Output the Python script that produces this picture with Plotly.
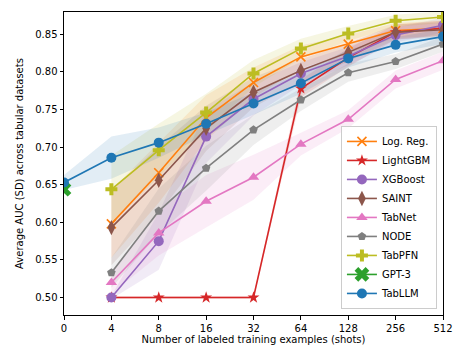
import plotly.graph_objects as go

shots = ["0", "4", "8", "16", "32", "64", "128", "256", "512"]

logreg_mean = [None, 0.598, 0.666, 0.739, 0.786, 0.820, 0.837, 0.855, 0.858]
logreg_sd = [None, 0.045, 0.040, 0.030, 0.020, 0.015, 0.012, 0.010, 0.010]
lgbm_mean = [None, 0.500, 0.500, 0.500, 0.500, 0.778, 0.819, 0.853, 0.858]
lgbm_sd = [None, 0.002, 0.002, 0.002, 0.002, 0.012, 0.012, 0.010, 0.010]
xgb_mean = [None, 0.500, 0.575, 0.714, 0.764, 0.798, 0.821, 0.849, 0.862]
xgb_sd = [None, 0.002, 0.038, 0.035, 0.022, 0.015, 0.012, 0.010, 0.010]
saint_mean = [None, 0.593, 0.656, 0.725, 0.773, 0.802, 0.826, 0.853, 0.856]
saint_sd = [None, 0.050, 0.045, 0.030, 0.020, 0.015, 0.012, 0.010, 0.010]
tabnet_mean = [None, 0.520, 0.586, 0.628, 0.660, 0.704, 0.737, 0.790, 0.815]
tabnet_sd = [None, 0.015, 0.030, 0.035, 0.030, 0.015, 0.012, 0.012, 0.012]
node_mean = [None, 0.533, 0.615, 0.672, 0.723, 0.763, 0.799, 0.814, 0.837]
node_sd = [None, 0.020, 0.030, 0.030, 0.020, 0.015, 0.012, 0.010, 0.010]
tabpfn_mean = [None, 0.644, 0.696, 0.746, 0.798, 0.831, 0.851, 0.868, 0.873]
tabpfn_sd = [None, 0.045, 0.035, 0.025, 0.018, 0.013, 0.010, 0.008, 0.008]
gpt3_mean = [0.644, None, None, None, None, None, None, None, None]
tabllm_mean = [0.653, 0.686, 0.706, 0.731, 0.758, 0.785, 0.818, 0.836, 0.847]
tabllm_sd = [0.010, 0.028, 0.020, 0.015, 0.015, 0.014, 0.012, 0.010, 0.010]

series = [
    ("Log. Reg.", logreg_mean, logreg_sd, "#ff7f0e", "x-thin-open", 9),
    ("LightGBM", lgbm_mean, lgbm_sd, "#d62728", "star", 9),
    ("XGBoost", xgb_mean, xgb_sd, "#9467bd", "circle", 10),
    ("SAINT", saint_mean, saint_sd, "#8c564b", "diamond-tall", 11),
    ("TabNet", tabnet_mean, tabnet_sd, "#e377c2", "triangle-up", 10),
    ("NODE", node_mean, node_sd, "#7f7f7f", "pentagon", 9),
    ("TabPFN", tabpfn_mean, tabpfn_sd, "#bcbd22", "cross", 10),
    ("GPT-3", gpt3_mean, None, "#2ca02c", "x", 13),
    ("TabLLM", tabllm_mean, tabllm_sd, "#1f77b4", "circle", 10),
]

def rgba(hexc, a):
    h = hexc.lstrip("#")
    return f"rgba({int(h[0:2],16)},{int(h[2:4],16)},{int(h[4:6],16)},{a})"

fig = go.Figure()

for name, mean, sd, col, sym, sz in series:
    if sd is None:
        continue
    xs = [s for s, m in zip(shots, mean) if m is not None]
    lo = [m - d for m, d in zip(mean, sd) if m is not None]
    hi = [m + d for m, d in zip(mean, sd) if m is not None]
    fig.add_trace(go.Scatter(x=xs, y=lo, mode="lines", line=dict(width=0, color=col),
                             showlegend=False, hoverinfo="skip"))
    fig.add_trace(go.Scatter(x=xs, y=hi, mode="lines", line=dict(width=0, color=col),
                             fill="tonexty", fillcolor=rgba(col, 0.13),
                             showlegend=False, hoverinfo="skip"))

for name, mean, sd, col, sym, sz in series:
    xs = [s for s, m in zip(shots, mean) if m is not None]
    ys = [m for m in mean if m is not None]
    mk = dict(symbol=sym, size=sz, color=col)
    if sym == "x-thin-open":
        mk["line"] = dict(width=1.6, color=col)
    fig.add_trace(go.Scatter(x=xs, y=ys, mode="lines+markers", name=name,
                             line=dict(color=col, width=1.6), marker=mk))

axis_common = dict(showline=True, linecolor="black", linewidth=1, mirror=True,
                   ticks="outside", ticklen=3.5, tickcolor="black", showgrid=False,
                   zeroline=False, automargin=False, tickfont=dict(size=10, color="black"))

fig.update_xaxes(type="category", categoryorder="array", categoryarray=shots,
                 range=[0, 8],
                 title=dict(text="Number of labeled training examples (shots)",
                            font=dict(size=10, color="black"), standoff=3),
                 **axis_common)
fig.update_yaxes(range=[0.4768, 0.8797], tickvals=[0.5, 0.55, 0.6, 0.65, 0.7, 0.75, 0.8, 0.85],
                 tickformat=".2f",
                 title=dict(text="Average AUC (SD) across tabular datasets",
                            font=dict(size=10, color="black"), standoff=9),
                 **axis_common)

fig.update_layout(
    width=459, height=349,
    margin=dict(l=56, r=24, t=4, b=42),
    plot_bgcolor="white", paper_bgcolor="white",
    font=dict(family="DejaVu Sans", size=10, color="black"),
    legend=dict(x=0.984, y=0.02, xanchor="right", yanchor="bottom",
                traceorder="normal",
                bgcolor="rgba(255,255,255,0.85)", bordercolor="#cccccc", borderwidth=1,
                font=dict(size=10), tracegroupgap=0),
)

fig.write_html("out.html")
